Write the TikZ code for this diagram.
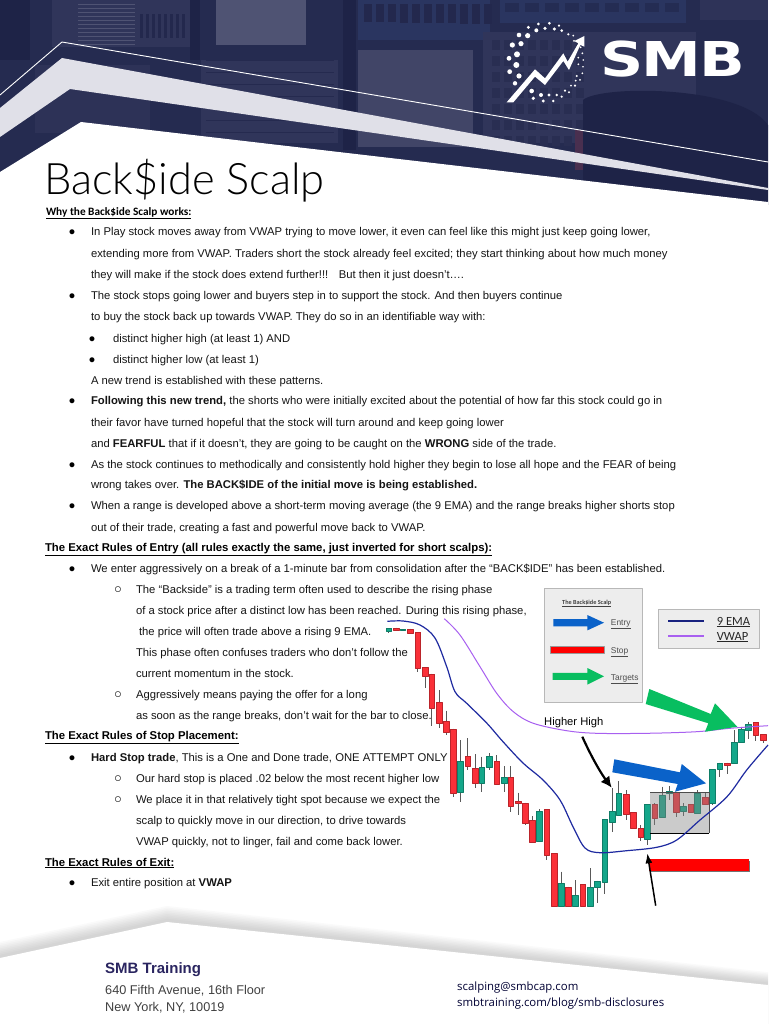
\documentclass[tikz,border=0pt]{standalone}
\usepackage{fontspec}
\setmainfont{Liberation Sans}
\newfontfamily\carlito{Carlito}
\newfontfamily\opensans{Open Sans}
\newfontfamily\titlefont{Lato Light}
\newfontfamily\logofont{DejaVu Sans}
\usetikzlibrary{arrows.meta}
\definecolor{navy}{HTML}{252B50}
\definecolor{navyd}{HTML}{1E2347}
\definecolor{scr}{HTML}{30355A}
\definecolor{scrb}{HTML}{2A3560}
\definecolor{band}{HTML}{E0E0E8}
\definecolor{cr}{HTML}{FA3038}
\definecolor{cg}{HTML}{14A78A}
\definecolor{ema}{HTML}{1E2AA0}
\definecolor{vwap}{HTML}{A860F0}
\definecolor{barrow}{HTML}{0A62C9}
\definecolor{garrow}{HTML}{08BE60}
\definecolor{txtc}{HTML}{151515}
\definecolor{foot}{HTML}{2A2560}
\tikzset{
  bodytxt/.style={anchor=base west,inner sep=0pt,outer sep=0pt,text=txtc,font=\fontsize{11.27}{14}\selectfont},
  head/.style={bodytxt,text=black,font=\fontsize{11.35}{14}\selectfont\bfseries},
  bul/.style={anchor=base,inner sep=0pt,text=black,font=\fontsize{11.5}{12}\selectfont},
  subbul/.style={anchor=base,inner sep=0pt,text=black,font=\fontsize{13}{14}\selectfont},
  leg/.style={anchor=base west,inner sep=0pt,text=black!70,font=\fontsize{8.4}{10}\selectfont},
  addr/.style={anchor=base west,inner sep=0pt,text=black!75,font=\fontsize{12.7}{14}\selectfont},
  mail/.style={anchor=base west,inner sep=0pt,text=black!80!blue,font=\opensans\fontsize{11.4}{12}\selectfont},
}
\begin{document}
\begin{tikzpicture}[x=1pt,y=-1pt,line join=round]
\useasboundingbox (0,0) rectangle (768,1024);
\fill[white] (0,0) rectangle (768,1024);
% ---------- banner
\begin{scope}
\clip (0,0) rectangle (768,205);
\fill[navy] (0,0) rectangle (768,205);
\fill[scr] (52,0) rectangle (190,47);
\fill[scr!85!white] (216,0) rectangle (306,45);
\fill[scrb] (358,0) rectangle (490,40);
\fill[scrb] (500,0) rectangle (686,23);
\fill[scr] (483,32) rectangle (696,143);
\fill[scr!92!white] (358,50) rectangle (473,147);
\fill[scr] (201,60) rectangle (338,143);
\fill[scr!70!navy] (35,65) rectangle (150,133);
\fill[scr!80!navy] (700,0) rectangle (768,20);
\fill[navyd] (0,0) rectangle (30,60);
\fill[navyd] (190,0) rectangle (200,60);
\fill[navyd] (343,0) rectangle (356,150);
\foreach \yy in {4,8,...,44} \draw[scr!85!white,line width=.6] (78,\yy) -- (135,\yy);
\foreach \xx in {140,146,...,186} \fill[navyd!70!scr] (\xx,14) rectangle +(3,24);
\foreach \xx in {364,376,...,484} \fill[navyd!70!scr] (\xx,4) rectangle +(8,12+\xx/60);
\foreach \xx in {505,525,...,680} \fill[navyd!50!scrb] (\xx,3) rectangle +(14,9);
\foreach \yy in {60,72,...,132} \draw[navyd!60!scr,line width=.7] (206,\yy) -- (334,\yy);
\foreach \xx in {492,504,...,576} \foreach \yy in {40,56,...,136} \fill[navyd!40!scr] (\xx,\yy) rectangle +(8,10);
\fill[scr!88!red] (575,130) rectangle (610,170);
\fill[navyd] (583,143) -- (583,100) .. controls (600,85) and (740,85) .. (768,125) -- (768,205) -- (583,205) -- cycle;
\end{scope}
\fill[band] (0,108) -- (62,58) -- (768,188) -- (768,190) -- (70,89) -- (0,137) -- cycle;
\draw[white,line width=.9] (0,95) -- (62,42) -- (768,162);
\fill[white] (0,172) -- (81,122) -- (768,202) -- (768,215) -- (0,215) -- cycle;
% ---------- logo
\begin{scope}[shift={(495,15)},x=.3333pt,y=-.3333pt]
\foreach \xx/\yy/\rr in {130/27/1.5,163/25/1.5,100/37/1.6,124/46/2,150/40/1.8,178/42/1.7,192/32/1.2,72/60/2.3,98/62/2.6,200/47/1.5,220/58/1.2,235/62/1,52/90/2.6,78/86/2.6,237/78/1,66/118/3,42/130/2.4,64/150/3,44/170/2.4,72/183/2.6,60/205/2.2,257/97/1,262/115/1,250/128/1,265/135/.9,250/148/1,264/155/.9,262/175/1,245/183/1.1,255/195/1,242/197/1,240/212/1.2,228/212/1,222/232/1.1,210/227/1.2,200/245/1.2,185/240/1.4,175/258/1.4,162/240/1.6,145/258/1.6,138/240/2,115/250/1.8,110/228/2.3}
  \fill[white] (\xx,\yy) circle[radius=\rr pt];
\fill[white] (35,262) -- (120,163) -- (150,190) -- (205,115) -- (218,140) -- (250,85) -- (238,78) -- (268,63) -- (268,95) -- (256,90) -- (222,165) -- (205,138) -- (150,210) -- (120,185) -- (55,262) -- cycle;
\end{scope}
\node[inner sep=0pt,anchor=base west,text=white,xscale=1.25] (smb) at (600,77) {\logofont\fontsize{48}{50}\selectfont\bfseries S\kern-1.5pt M\kern-1.5pt B};
% ---------- title
\node[anchor=base west,inner sep=0pt,text=black] (title) at (44,195) {\titlefont\fontsize{43.4}{44}\selectfont Back\$ide Scalp};
% ---------- text
\node[head,font=\carlito\fontsize{11.3}{14}\selectfont\bfseries] (h1) at (46,215) {\underline{Why the Back\$ide Scalp works:}};
\node[bul] (b1) at (72,236) {●};
\node[bodytxt] (l1) at (91,236) {In Play stock moves away from VWAP trying to move lower, it even can feel like this might just keep going lower,};
\node[bodytxt] (l2) at (91,257) {extending more from VWAP. Traders short the stock already feel excited; they start thinking about how much money};
\node[bodytxt] (l3) at (91,278) {they will make if the stock does extend further!!! \ \ But then it just doesn’t….};
\node[bul] (b2) at (72,299) {●};
\node[bodytxt] (l4) at (91,299) {The stock stops going lower and buyers step in to support the stock. And then buyers continue};
\node[bodytxt] (l5) at (91,320) {to buy the stock back up towards VWAP. They do so in an identifiable way with:};
\node[bul] (b3) at (92,342) {●};
\node[bodytxt] (l6) at (113,342) {distinct higher high (at least 1) AND};
\node[bul] (b4) at (92,363) {●};
\node[bodytxt] (l7) at (113,363) {distinct higher low (at least 1)};
\node[bodytxt] (l8) at (91,384) {A new trend is established with these patterns.};
\node[bul] (b5) at (72,404) {●};
\node[bodytxt] (l9) at (91,404) {\textbf{Following this new trend,} the shorts who were initially excited about the potential of how far this stock could go in};
\node[bodytxt] (l10) at (91,426) {their favor have turned hopeful that the stock will turn around and keep going lower};
\node[bodytxt] (l11) at (91,447) {and \textbf{FEARFUL} that if it doesn’t, they are going to be caught on the \textbf{WRONG} side of the trade.};
\node[bul] (b6) at (72,468) {●};
\node[bodytxt] (l12) at (91,468) {As the stock continues to methodically and consistently hold higher they begin to lose all hope and the FEAR of being};
\node[bodytxt] (l13) at (91,488) {wrong takes over. \textbf{The BACK\$IDE of the initial move is being established.}};
\node[bul] (b7) at (72,509) {●};
\node[bodytxt] (l14) at (91,509) {When a range is developed above a short-term moving average (the 9 EMA) and the range breaks higher shorts stop};
\node[bodytxt] (l15) at (91,531) {out of their trade, creating a fast and powerful move back to VWAP.};
\node[head] (h2) at (45,551) {\underline{The Exact Rules of Entry (all rules exactly the same, just inverted for short scalps):}};
\node[bul] (b8) at (72,572) {●};
\node[bodytxt] (l16) at (91,572) {We enter aggressively on a break of a 1-minute bar from consolidation after the “BACK\$IDE” has been established.};
\node[subbul] (o1) at (118,593) {○};
\node[bodytxt] (l17) at (136,593) {The “Backside” is a trading term often used to describe the rising phase};
\node[bodytxt] (l18) at (136,614) {of a stock price after a distinct low has been reached. During this rising phase,};
\node[bodytxt] (l19) at (139,635) {the price will often trade above a rising 9 EMA.};
\node[bodytxt] (l20) at (136,656) {This phase often confuses traders who don't follow the};
\node[bodytxt] (l21) at (136,677) {current momentum in the stock.};
\node[subbul] (o2) at (118,698) {○};
\node[bodytxt] (l22) at (136,698) {Aggressively means paying the offer for a long};
\node[bodytxt] (l23) at (136,719) {as soon as the range breaks, don’t wait for the bar to close.};
\node[head] (h3) at (45,739) {\underline{The Exact Rules of Stop Placement:}};
\node[bul] (b9) at (72,761) {●};
\node[bodytxt] (l24) at (91,761) {\textbf{Hard Stop trade}, This is a One and Done trade, ONE ATTEMPT ONLY};
\node[subbul] (o3) at (118,782) {○};
\node[bodytxt] (l25) at (136,782) {Our hard stop is placed .02 below the most recent higher low};
\node[subbul] (o4) at (118,803) {○};
\node[bodytxt] (l26) at (136,803) {We place it in that relatively tight spot because we expect the};
\node[bodytxt] (l27) at (136,824) {scalp to quickly move in our direction, to drive towards};
\node[bodytxt] (l28) at (136,845) {VWAP quickly, not to linger, fail and come back lower.};
\node[head] (h4) at (45,866) {\underline{The Exact Rules of Exit:}};
\node[bul] (b10) at (72,886) {●};
\node[bodytxt] (l29) at (91,886) {Exit entire position at \textbf{VWAP}};
% ---------- candles
\foreach \xx/\wa/\wb/\ba/\bb/\kk in {
388.7/628.3/633/628.3/631/cg,396/627.7/630/627.7/630/cr,402.7/629/630.3/629/630.3/cg,410/628.7/633.3/628.7/633.3/cr,
417.7/632.3/671.7/632.3/667.7/cr,425/667.3/688/667.3/676/cr,431.7/673.7/726/673.7/707.7/cr,439/690/728/701.7/722.7/cr,
446.3/710.7/735/721.3/731.7/cr,453/728.7/796.7/728.7/793.3/cr,460.3/740/801.7/760.7/791.7/cg,467.7/738/770/756/766/cr,
475/754/788.3/768.3/783.3/cr,481.7/756.7/791.7/766.7/783.3/cg,489.3/753.3/770/755.7/766.7/cg,496.7/755/785/760.7/784.3/cr,
504/766/791.7/776.7/783.3/cg,510.7/766/811.7/776.7/806/cr,518/792.7/815/801/803.3/cr,525.3/802.7/825/802.7/822.7/cr,
532.3/816/841.7/820/841.7/cr,539.3/809/841.7/811/841/cg,546.7/809.3/860/809.3/855/cr,554/853.3/905.7/853.3/905.7/cr,
561/871.7/905.7/883.3/905.7/cg,568/886.7/905.7/886.7/905.7/cr,575.3/880/905.7/895/905.7/cg,582.7/884.3/905.7/884.3/905.7/cr,
590/868.3/905.7/886.7/905.7/cg,597.3/880.7/903.3/880.7/886.7/cg,604.7/819.3/894/819.3/881.7/cg,612/788.3/831.7/810.7/821.7/cg,
618.7/781/815/793.3/815/cg,626/790/820/794.3/814/cr,633.3/812.3/827.7/812.3/827.7/cr,640.7/825/840.7/827.7/836.7/cr,
647.3/804/845/804/839/cg,654.7/803/825/804/818.3/cr,662/786.7/816.7/795/816.7/cg,669/786/800/790.7/793.3/cg,
676/791.7/816.7/791.7/811.7/cr,683.3/803.3/816/806/811/cg,690.7/804/813.3/804/812.3/cr,697.3/790/814/793.3/813.3/cg,
705/793/805/797.3/804/cr,712.3/769/805/769/803.3/cg,719.7/762.7/776.7/762.7/769.3/cg,727/762.7/774.3/762.7/765/cr,
734/730/763/742/762.7/cg,741/726.7/743/729.3/742.3/cg,748.3/721.7/739.3/724/730/cg,755.7/722.3/741/722.3/735/cr,763.3/734.3/743/734.3/740/cr}
{
  \draw[black!65,line width=.6] (\xx,\wa) -- (\xx,\wb);
  \fill[\kk,draw=\kk!75!black,line width=.4] (\xx-2.9,\ba) rectangle (\xx+2.9,\bb);
}
% range box
\fill[black!48,opacity=.42] (650,792.7) rectangle (709.3,833.3);
\draw[black!70,line width=.5] (650,792.7) -- (709.3,792.7) -- (709.3,833.3);
\draw[black,line width=1] (650,833.3) -- (709.3,833.3);
% moving averages
\draw[ema,line width=1.2] plot[smooth,tension=.55] coordinates {(387.3,621.3) (403,621) (420,625) (435,638) (446.7,666.7) (455,691.7) (466.7,703.3) (486.7,723) (503,741.7) (523,763) (543,780) (560,800) (573,826.7) (585,848) (600,852.7) (626.7,850.7) (656.7,847.3) (676.7,840) (700,820) (727,796.7) (746.7,770) (768,745)};
\draw[vwap,line width=1] plot[smooth,tension=.55] coordinates {(444.3,618.7) (460,635) (480,666.7) (496.7,693.3) (513.3,711.7) (533.3,723.3) (566.7,730.7) (596.7,733.3) (646.7,733.3) (696.7,731.7) (730,728.3) (768,725.7)};
% big arrows
\fill[garrow] (649.3,689) -- (710.7,714) -- (715,703.3) -- (737.3,726.7) -- (705,731.7) -- (708.3,723.3) -- (645.7,704) -- cycle;
\fill[barrow] (614.3,759.3) -- (680,772.3) -- (681.7,764) -- (706,783.3) -- (675,791.7) -- (677.7,784) -- (612.3,772.3) -- cycle;
\fill[black!55] (650,860.5) rectangle (750,872);
\fill[red] (649.3,859.3) rectangle (749.3,871);
% black pointers
\coordinate (hh1) at (582.3,736.7);
\coordinate (hh2) at (611.7,787.7);
\coordinate (ll1) at (655.7,905.7);
\coordinate (ll2) at (647.3,853.3);
\draw[black,line width=2.2,-{Latex[length=11,width=11]}] (hh1) .. controls (590,754) and (600,772) .. (hh2);
\draw[black,line width=1.5,-{Latex[length=10,width=7]}] (ll1) -- (ll2);
\node[anchor=base west,inner sep=0pt,text=black,font=\fontsize{11.2}{13}\selectfont] (hh) at (544,725.7) {Higher High};
% legend 1
\node[draw=black!28,line width=1.1,fill=black!7,inner sep=0pt,minimum width=98.6,minimum height=113.7,anchor=north west] (lg1) at (543.7,588) {};
\node[inner sep=0pt,anchor=base,font=\carlito\fontsize{6.2}{7}\selectfont\bfseries,text=black!75] (lgt) at (586.7,604) {\underline{The Back\$ide Scalp}};
\fill[barrow] (553.3,619.1) -- (587.3,619.1) -- (587.3,615) -- (604,622.7) -- (587.3,630.4) -- (587.3,626.3) -- (553.3,626.3) -- cycle;
\fill[red,draw=black!40,line width=.4] (550,646) rectangle (604,653);
\fill[garrow] (552.7,672.8) -- (587.3,672.8) -- (587.3,668) -- (604,676.3) -- (587.3,684.6) -- (587.3,679.8) -- (552.7,679.8) -- cycle;
\node[leg] (lgE) at (610.7,625.5) {\underline{Entry}};
\node[leg] (lgS) at (610.7,653) {\underline{Stop}};
\node[leg] (lgT) at (610.7,680) {\underline{Targets}};
% legend 2
\node[draw=black!28,line width=1.1,fill=black!7,inner sep=0pt,minimum width=100.7,minimum height=39.6,anchor=north west] (lg2) at (658.3,608.7) {};
\coordinate (e1) at (668.3,621); \coordinate (e2) at (704,621);
\coordinate (v1) at (668.3,636); \coordinate (v2) at (704,636);
\draw[ema!80!black,line width=1.3] (e1) -- (e2);
\draw[vwap,line width=1.3] (v1) -- (v2);
\node[anchor=base west,inner sep=0pt,font=\carlito\fontsize{12.5}{14}\selectfont,text=black!85] (l9e) at (716.7,625) {\underline{9 EMA}};
\node[anchor=base west,inner sep=0pt,font=\carlito\fontsize{12.5}{14}\selectfont,text=black!85] (lvw) at (716.7,640) {\underline{VWAP}};
% ---------- footer
\foreach \i in {16,14.4,...,1.6}
  \fill[black!60,opacity=.03] (0,958-\i) -- (167,922-\i) -- (768,985-\i*.8) -- (768,1024) -- (0,1024) -- cycle;
\fill[white] (0,958) -- (167,922) -- (768,985) -- (768,1024) -- (0,1024) -- cycle;
\node[anchor=base west,inner sep=0pt,text=foot,font=\fontsize{15}{17}\selectfont\bfseries] (f1) at (105,973) {SMB Training};
\node[addr] (f2) at (105,994) {640 Fifth Avenue, 16th Floor};
\node[addr] (f3) at (105,1011) {New York, NY, 10019};
\node[mail] (f4) at (457,990.5) {scalping@smbcap.com};
\node[mail] (f5) at (457,1006) {smbtraining.com/blog/smb-disclosures};
\end{tikzpicture}
\end{document}
